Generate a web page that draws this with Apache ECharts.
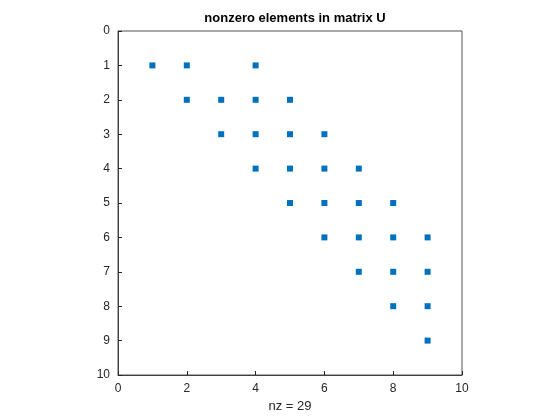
<!DOCTYPE html>
<html><head><meta charset="utf-8">
<script src="https://cdn.jsdelivr.net/npm/echarts@6/dist/echarts.min.js"></script>
<style>html,body{margin:0;padding:0;background:#fff}#c{width:560px;height:420px}</style>
</head><body><div id="c"></div>
<script>
const title = "nonzero elements in matrix U";
const xLabel = "nz = 29";
const rows = [1,1,1, 2,2,2,2, 3,3,3,3, 4,4,4,4, 5,5,5,5, 6,6,6,6, 7,7,7, 8,8, 9];
const cols = [1,2,4, 2,3,4,5, 3,4,5,6, 4,5,6,7, 5,6,7,8, 6,7,8,9, 7,8,9, 8,9, 9];
const data = cols.map((c,i)=>[c, rows[i]]);
const chart = echarts.init(document.getElementById('c'));
const axisCommon = {
  min:0, max:10, interval:2,
  axisLine:{show:true, onZero:false, lineStyle:{color:'#262626', width:0.8}},
  axisTick:{show:true, inside:true, length:4, lineStyle:{color:'#262626'}},
  axisLabel:{color:'#262626', fontSize:12, fontFamily:'Liberation Sans'},
  splitLine:{show:false}
};
chart.setOption({
  animation:false,
  title:{text:title, left:290, top:7, textAlign:'center',
    textStyle:{fontSize:13, fontWeight:'bold', color:'#000', fontFamily:'Liberation Sans'}},
  grid:{left:118, top:31, width:344, height:344, show:true, borderColor:'#262626', borderWidth:0.8},
  xAxis:Object.assign({}, axisCommon, {type:'value', position:'bottom', name:xLabel, nameLocation:'middle', nameGap:24,
    nameTextStyle:{fontSize:13, color:'#262626', fontFamily:'Liberation Sans'}}),
  yAxis:Object.assign({}, axisCommon, {type:'value', inverse:true, interval:1}),
  series:[{type:'scatter', data:data, symbol:'rect', symbolSize:6, itemStyle:{color:'#0072BD', opacity:1}}]
});
</script></body></html>
